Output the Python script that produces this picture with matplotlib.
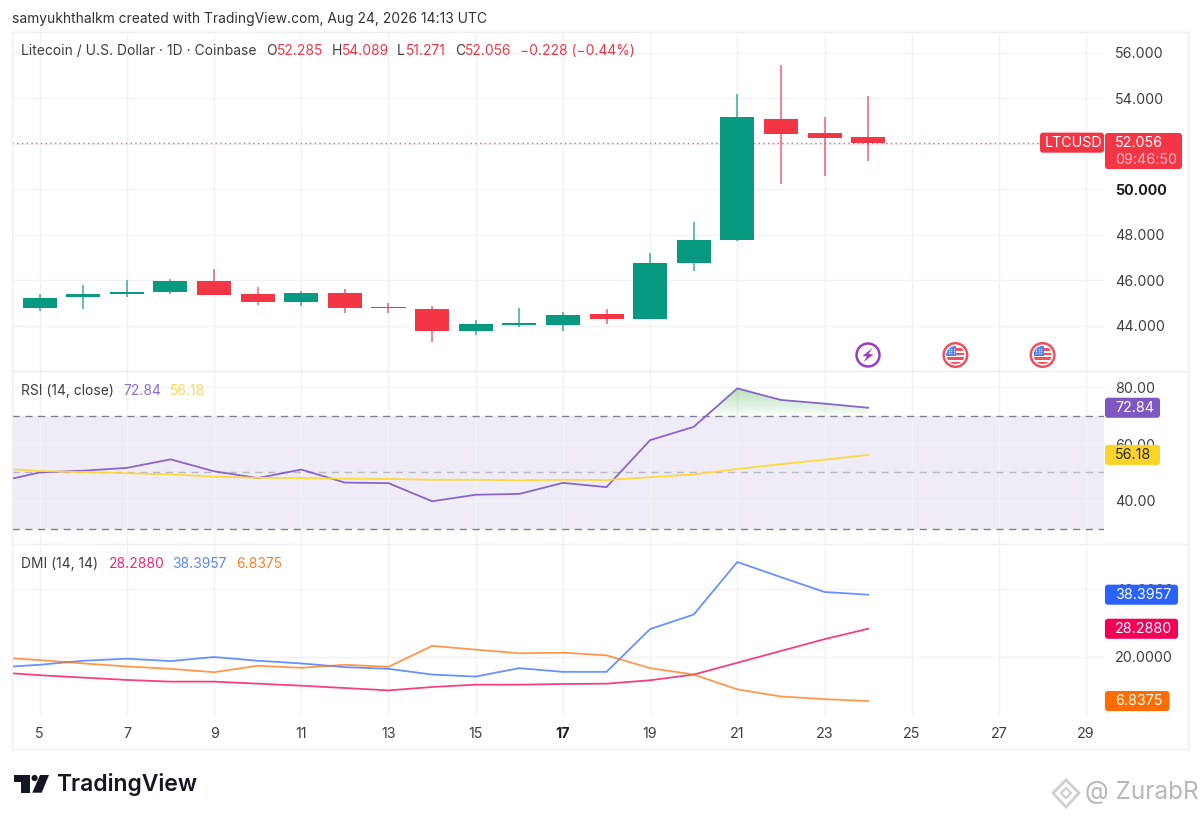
import numpy as np
import matplotlib
matplotlib.use("Agg")
import matplotlib.pyplot as plt
from matplotlib.patches import Circle, FancyBboxPatch, Polygon, Rectangle

plt.rcParams['font.family'] = ['Inter', 'DejaVu Sans']

# ---------- data ----------
days = [5, 6, 7, 8, 9, 10, 11, 12, 13, 14, 15, 16, 17, 18, 19, 20, 21, 22, 23, 24]
opens = [44.78, 45.26, 45.39, 45.49, 45.98, 45.39, 45.05, 45.46, 44.85, 44.76,
         43.77, 44.06, 44.06, 44.53, 44.31, 46.76, 47.77, 53.08, 52.47, 52.285]
highs = [45.40, 45.80, 46.02, 46.07, 46.50, 45.73, 45.54, 45.61, 45.03, 44.89,
         44.26, 44.78, 44.60, 44.73, 47.20, 48.57, 54.20, 55.46, 53.19, 54.089]
lows = [44.67, 44.73, 45.26, 45.41, 45.36, 44.91, 44.88, 44.56, 44.56, 43.31,
        43.59, 43.97, 43.77, 44.09, 44.31, 46.43, 47.72, 50.24, 50.59, 51.271]
closes = [45.24, 45.41, 45.51, 45.98, 45.36, 45.05, 45.46, 44.79, 44.79, 43.77,
          44.07, 44.12, 44.50, 44.31, 46.77, 47.79, 53.17, 52.45, 52.26, 52.056]

line_days = [4] + days
rsi = [46.5, 50.0, 50.6, 51.6, 54.6, 50.4, 48.0, 51.0, 46.4, 46.2, 39.8,
       42.1, 42.4, 46.3, 44.8, 61.4, 66.1, 79.7, 75.6, 74.3, 72.84]
rsi_ma = [51.4, 50.5, 50.1, 49.7, 49.3, 48.5, 48.1, 48.0, 47.8, 47.7, 47.4,
          47.4, 47.2, 47.4, 47.3, 48.3, 49.3, 51.2, 52.9, 54.5, 56.18]
dmi_plus = [15.4, 14.5, 13.8, 13.1, 12.6, 12.6, 12.0, 11.4, 10.7, 10.0, 11.0,
            11.7, 11.7, 11.9, 12.0, 13.0, 14.7, 18.2, 21.7, 25.2, 28.288]
dmi_minus = [16.8, 17.6, 18.8, 19.4, 18.7, 19.9, 18.8, 18.0, 16.9, 16.4, 14.7,
             14.1, 16.6, 15.5, 15.5, 28.2, 32.5, 48.1, 43.6, 39.2, 38.3957]
adx = [19.8, 19.0, 18.0, 17.1, 16.4, 15.4, 17.3, 16.7, 17.6, 17.0, 23.2,
       22.1, 21.0, 21.2, 20.4, 16.6, 14.7, 10.3, 8.2, 7.4, 6.8375]

x_ticks = [5, 7, 9, 11, 13, 15, 17, 19, 21, 23, 25, 27, 29]
price_ticks = [44, 46, 48, 50, 52, 54, 56]
rsi_ticks = [40, 60, 80]
dmi_ticks = [20, 40]
last_close = 52.056

# ---------- colours ----------
GREEN = '#089981'
RED = '#f23645'
GRID = '#f1f2f4'
FRAME = '#eceef1'
TXT = '#3d3f45'
PURPLE = '#7e57c2'
YELLOW = '#fdd835'
BLUE = '#2962ff'
PINK = '#f50057'
ORANGE = '#ff6d00'
W, H = 1200, 819
TICK_FS = 10.3


def px_axes(x0, y0, x1, y1):
    return fig.add_axes([x0 / W, 1 - y1 / H, (x1 - x0) / W, (y1 - y0) / H])


fig = plt.figure(figsize=(W / 100, H / 100), dpi=100, facecolor='white')
ax1 = px_axes(12, 32, 1104, 371)
ax2 = px_axes(12, 371, 1104, 544)
ax3 = px_axes(12, 544, 1104, 716)

for ax, ticks, fmt in ((ax1, price_ticks, '{:.3f}'), (ax2, rsi_ticks, '{:.2f}'), (ax3, dmi_ticks, '{:.4f}')):
    ax.set_xlim(4.365, 29.41)
    ax.set_xticks(x_ticks)
    ax.set_yticks(ticks)
    ax.set_yticklabels([fmt.format(t) for t in ticks])
    ax.yaxis.tick_right()
    ax.grid(True, color=GRID, lw=1)
    ax.set_axisbelow(True)
    ax.tick_params(axis='both', length=0, labelsize=TICK_FS, labelcolor=TXT)
    ax.tick_params(axis='y', pad=7.8)
    for s in ax.spines.values():
        s.set_visible(False)
    ax.patch.set_alpha(0)
ax1.tick_params(axis='x', labelbottom=False)
ax2.tick_params(axis='x', labelbottom=False)
ax1.set_ylim(42.02, 56.92)
ax2.set_ylim(24.7, 85.83)
ax3.set_ylim(2.40, 53.44)

# x labels
ax3.set_xticklabels([str(t) for t in x_ticks])
ax3.tick_params(axis='x', pad=7.6)
for lab, t in zip(ax3.get_xticklabels(), x_ticks):
    if t == 17:
        lab.set_fontweight('bold')
        lab.set_color('#1a1a1a')
for lab, t in zip(ax1.get_yticklabels(), price_ticks):
    if t == 50:
        lab.set_fontweight('bold')
        lab.set_color('#1a1a1a')

# ---------- candles ----------
o, h, l, c = map(np.array, (opens, highs, lows, closes))
d = np.array(days)
cols = [GREEN if a >= b else RED for a, b in zip(c, o)]
ax1.vlines(d, l, h, colors=cols, lw=1.1, alpha=0.8, zorder=3)
ax1.bar(d, np.abs(c - o), bottom=np.minimum(o, c), width=0.78, color=cols, zorder=4)
ax1.axhline(last_close, color=RED, lw=1, ls=(0, (1, 2.4)), alpha=0.8, zorder=2,
            xmax=(1040 - 12) / (1104 - 12))

# ---------- RSI ----------
ax2.axhspan(30, 70, color='#efecf8', lw=0, zorder=0.5)
for v, a in ((70, 0.95), (50, 0.45), (30, 0.95)):
    ax2.axhline(v, color='#787b86', lw=1, ls=(0, (5.2, 4)), alpha=a, zorder=1.5)
fill = ax2.fill_between(line_days, 70, rsi, where=np.array(rsi) >= 70, interpolate=True, color='none', lw=0)
grad = np.linspace(0.42, 0.03, 64)
rgba = np.zeros((64, 1, 4))
rgba[..., :3] = matplotlib.colors.to_rgb('#4caf50')
rgba[..., 3] = grad.reshape(-1, 1)
im = ax2.imshow(rgba, extent=[20, 24, 70, 80], origin='upper', aspect='auto', zorder=1.2)
im.set_clip_path(fill.get_paths()[0], fill.get_transform())
ax2.set_xlim(4.365, 29.41)
ax2.set_ylim(24.7, 85.83)
ax2.plot(line_days, rsi, color=PURPLE, lw=1.3, alpha=0.9, zorder=3)
ax2.plot(line_days, rsi_ma, color=YELLOW, lw=1.3, alpha=0.95, zorder=3.2)

# ---------- DMI ----------
ax3.plot(line_days, dmi_plus, color=PINK, lw=1.3, alpha=0.75, zorder=3)
ax3.plot(line_days, dmi_minus, color=BLUE, lw=1.3, alpha=0.7, zorder=3.1)
ax3.plot(line_days, adx, color=ORANGE, lw=1.3, alpha=0.7, zorder=3.2)

# ---------- overlay in pixel coordinates ----------
ov = fig.add_axes([0, 0, 1, 1], zorder=10)
ov.set_xlim(0, W)
ov.set_ylim(H, 0)
ov.axis('off')
ov.patch.set_alpha(0)

for y in (32, 371, 544, 749):
    ov.plot([12, 1188], [y, y], color=FRAME, lw=1, zorder=1)
for x in (12, 1188):
    ov.plot([x, x], [32, 749], color=FRAME, lw=1, zorder=1)


def ypx(ax, v):
    return H - ax.transData.transform((0, v))[1]


def tag(x0, x1, yc, color, text, tcolor='white', hh=10, tx=10):
    ov.add_patch(FancyBboxPatch((x0 + 1, yc - hh + 1), x1 - x0 - 2, 2 * hh - 2,
                                boxstyle='round,pad=0,rounding_size=2', mutation_scale=1,
                                fc=color, ec=color, lw=1.5, zorder=3))
    ov.text(x0 + tx, yc + 0.3, text, color=tcolor, fontsize=TICK_FS, va='center', ha='left', zorder=4)


# price tags
yc = ypx(ax1, last_close)
tag(1040, 1104, yc, RED, 'LTCUSD', tx=5)
ov.add_patch(FancyBboxPatch((1106, 134), 75, 34, boxstyle='round,pad=0,rounding_size=2',
                            mutation_scale=1, fc=RED, ec=RED, lw=1.5, zorder=3))
ov.text(1115, yc + 0.3, f'{last_close:.3f}', color='white', fontsize=TICK_FS, va='center', zorder=4)
ov.text(1115, 159.5, '09:46:50', color='#fbb9bf', fontsize=TICK_FS, va='center', zorder=4)

tag(1105, 1160, ypx(ax2, rsi[-1]), PURPLE, f'{rsi[-1]:.2f}')
tag(1105, 1160, ypx(ax2, rsi_ma[-1]), '#fbd32a', f'{rsi_ma[-1]:.2f}', tcolor='#2a2a2a')
tag(1105, 1178, ypx(ax3, dmi_minus[-1]), BLUE, f'{dmi_minus[-1]:.4f}')
tag(1105, 1178, ypx(ax3, dmi_plus[-1]), PINK, f'{dmi_plus[-1]:.4f}')
tag(1105, 1169.5, ypx(ax3, adx[-1]), ORANGE, f'{adx[-1]:.4f}')

# header & legends
FS = 9.95
ov.text(12, 19.2, 'samyukhthalkm created with TradingView.com, Aug 24, 2026 14:13 UTC',
        color='#333333', fontsize=FS, va='center')
legend_price = [(21, 'Litecoin / U.S. Dollar · 1D · Coinbase', TXT), (266, 'O', TXT), (277, '52.285', RED),
                (332, 'H', TXT), (342, '54.089', RED), (397, 'L', TXT), (406, '51.271', RED),
                (455, 'C', TXT), (465, '52.056', RED), (520, '−0.228 (−0.44%)', RED)]
for x, s, col in legend_price:
    ov.text(x, 51, s, color=col, fontsize=FS, va='center')
for x, s, col in [(21, 'RSI (14, close)', TXT), (123.5, '72.84', '#8e6fd0'), (170, '56.18', '#fbd75b')]:
    ov.text(x, 390.8, s, color=col, fontsize=FS, va='center')
for x, s, col in [(21, 'DMI (14, 14)', TXT), (109, '28.2880', '#f5266e'),
                  (172.5, '38.3957', '#5a85ff'), (236, '6.8375', '#ff7f24')]:
    ov.text(x, 564, s, color=col, fontsize=FS, va='center')

# event icons
ICON_Y = 355
ov.add_patch(Circle((868, ICON_Y), 11.5, fc='white', ec='#9c3bc0', lw=1.8, zorder=3))
ov.add_patch(Polygon([(872.5, 348), (862.5, 356), (867, 356.5), (863.5, 362), (873.5, 354.5), (868.5, 354)],
                     closed=True, fc='#9c3bc0', ec='none', zorder=4))
for cx in (955.4, 1042.6):
    ov.add_patch(Circle((cx, ICON_Y), 11.8, fc='white', ec='#f4505c', lw=1.8, zorder=3))
    clip = Circle((cx, ICON_Y), 9, transform=ov.transData)
    for yy in (-7, -2.5, 2, 6.5):
        r = Rectangle((cx - 9, ICON_Y + yy), 18, 2.6, fc='#f4505c', ec='none', zorder=4)
        ov.add_patch(r)
        r.set_clip_path(clip)
    r = Rectangle((cx - 9, ICON_Y - 9), 10, 10, fc='#4a80f5', ec='none', zorder=5)
    ov.add_patch(r)
    r.set_clip_path(clip)
    dx, dy = np.meshgrid(np.arange(-6.5, 0, 2.4), np.arange(-6.5, 0, 2.4))
    ov.scatter(cx + dx.ravel(), ICON_Y + dy.ravel(), s=1.2, c='#cfe0ff', lw=0, zorder=6)

# TradingView logo
LOGO = '#131722'
ov.add_patch(Polygon([(14, 775), (30, 775), (30, 792.7), (20.7, 792.7), (20.7, 781.7), (14, 781.7)],
                     closed=True, fc=LOGO, ec='none', zorder=3))
ov.add_patch(Circle((34.6, 778), 3.1, fc=LOGO, ec='none', zorder=3))
ov.add_patch(Polygon([(40, 775), (49, 775), (41.7, 792.7), (32.3, 792.7)],
                     closed=True, fc=LOGO, ec='none', zorder=3))
ov.text(56.5, 785, 'TradingView', color=LOGO, fontsize=16.5, fontweight='semibold', va='center', zorder=3)

# watermark
WM = '#cfcfcf'
ov.add_patch(Polygon([(1066, 780), (1079, 793), (1066, 807), (1053, 793)], closed=True,
                     fc='none', ec=WM, lw=2, zorder=3))
ov.add_patch(Polygon([(1066, 788), (1071, 793), (1066, 798), (1061, 793)], closed=True,
                     fc='none', ec=WM, lw=1.6, zorder=3))
ov.text(1085, 793, '@ ZurabR', color='#b8b8b8', fontsize=17.5, va='center', zorder=3, clip_on=False)

fig.savefig('out.png', dpi=100, facecolor='white')
